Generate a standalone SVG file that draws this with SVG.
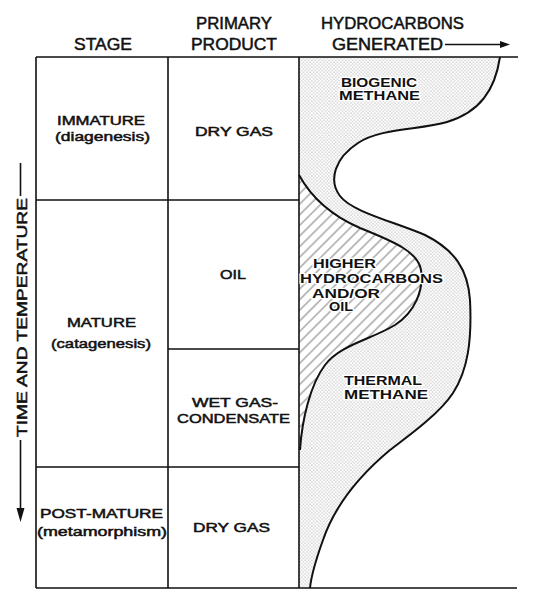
<svg xmlns="http://www.w3.org/2000/svg" width="539" height="599" viewBox="0 0 539 599">
<style>
text{font-family:"Liberation Sans",Arial,sans-serif;fill:#111;stroke:#111;stroke-width:0.5;text-anchor:middle}
.h{font-size:16.5px}
.c{font-size:12.5px}
.lb{font-size:12.5px;font-weight:bold;stroke:#fff;stroke-width:2.6;stroke-linejoin:round;paint-order:stroke}
.ln{stroke:#111;stroke-width:1.6;fill:none}
.cv{stroke:#111;stroke-width:2;fill:none}
</style>
<defs>
<pattern id="dots" width="3.4" height="3.4" patternUnits="userSpaceOnUse"><rect width="3.4" height="3.4" fill="#fff"/><circle cx="0.85" cy="0.85" r="0.45" fill="#555"/><circle cx="2.55" cy="2.55" r="0.45" fill="#555"/></pattern>
<pattern id="hatch" width="7.5" height="10" patternUnits="userSpaceOnUse" patternTransform="rotate(45)"><rect width="7.5" height="10" fill="#fff"/><line x1="3.75" y1="0" x2="3.75" y2="10" stroke="#555" stroke-width="0.8"/></pattern>
</defs>
<rect width="539" height="599" fill="#fff"/>

<g id="regions">
<path id="dotted" d="M299,57 L500,57 C495,90 480,112 447,122 C420,130 380,128 358,143 C335,158 328,180 340,196 C352,212 395,222 425,235 C455,250 468,270 470,300 C472,340 468,370 453,393 C440,413 410,435 390,450 C360,475 335,505 323,540 C314,565 311,578 310,588 L299,588 Z" fill="url(#dots)"/>
<path id="hatched" d="M299,175 C310,195 330,215 360,228 C395,242 418,252 421,270 C424,290 415,312 395,325 C370,340 340,345 325,365 C310,385 302,420 300,450 L299,450 Z" fill="url(#hatch)"/>
</g>

<g id="connectors">
<path class="ln" d="M36,57 H518 M36,57 V588 M168,57 V588 M299,57 V588 M36,588 H517 M36,200 H299 M168,349 H299 M36,467 H299"/>
<path class="cv" d="M500,57 C495,90 480,112 447,122 C420,130 380,128 358,143 C335,158 328,180 340,196 C352,212 395,222 425,235 C455,250 468,270 470,300 C472,340 468,370 453,393 C440,413 410,435 390,450 C360,475 335,505 323,540 C314,565 311,578 310,588"/>
<path class="cv" d="M299,175 C310,195 330,215 360,228 C395,242 418,252 421,270 C424,290 415,312 395,325 C370,340 340,345 325,365 C310,385 302,420 300,450"/>
<path class="ln" d="M445,44.5 H502"/>
<polygon points="500,41 510,44.5 500,48" fill="#111"/>
<path class="ln" d="M20.5,163 V196 M20.5,440 V510"/>
<polygon points="16.5,508 24.5,508 20.5,522" fill="#111"/>
</g>

<g id="header">
<text class="h" x="103" y="50" textLength="58" lengthAdjust="spacingAndGlyphs">STAGE</text>
<text class="h" x="234" y="29" textLength="76" lengthAdjust="spacingAndGlyphs">PRIMARY</text>
<text class="h" x="234" y="50" textLength="86" lengthAdjust="spacingAndGlyphs">PRODUCT</text>
<text class="h" x="392.5" y="29" textLength="143" lengthAdjust="spacingAndGlyphs">HYDROCARBONS</text>
<text class="h" x="387.5" y="50" textLength="111" lengthAdjust="spacingAndGlyphs">GENERATED</text>
<text style="font-size:15px" transform="translate(27,317.5) rotate(-90)" textLength="239" lengthAdjust="spacingAndGlyphs">TIME AND TEMPERATURE</text>
</g>

<g id="immature">
<text class="c" x="101" y="125" textLength="88" lengthAdjust="spacingAndGlyphs">IMMATURE</text>
<text class="c" x="102.5" y="140.5" textLength="95" lengthAdjust="spacingAndGlyphs">(diagenesis)</text>
</g>
<g id="drygas1"><text class="c" x="234" y="136" textLength="78" lengthAdjust="spacingAndGlyphs">DRY GAS</text></g>
<g id="mature">
<text class="c" x="101.5" y="327" textLength="69" lengthAdjust="spacingAndGlyphs">MATURE</text>
<text class="c" x="101" y="347.5" textLength="100" lengthAdjust="spacingAndGlyphs">(catagenesis)</text>
</g>
<g id="oil"><text class="c" x="233" y="279" textLength="26" lengthAdjust="spacingAndGlyphs">OIL</text></g>
<g id="wetgas">
<text class="c" x="235" y="407" textLength="86" lengthAdjust="spacingAndGlyphs">WET GAS-</text>
<text class="c" x="233.5" y="423" textLength="113" lengthAdjust="spacingAndGlyphs">CONDENSATE</text>
</g>
<g id="postmature">
<text class="c" x="101.5" y="518" textLength="123" lengthAdjust="spacingAndGlyphs">POST-MATURE</text>
<text class="c" x="102" y="535.5" textLength="130" lengthAdjust="spacingAndGlyphs">(metamorphism)</text>
</g>
<g id="drygas2"><text class="c" x="231.5" y="532" textLength="77" lengthAdjust="spacingAndGlyphs">DRY GAS</text></g>

<g id="biogenic">
<text class="lb" x="379" y="86.5" textLength="76" lengthAdjust="spacingAndGlyphs">BIOGENIC</text>
<text class="lb" x="379.5" y="99.5" textLength="81" lengthAdjust="spacingAndGlyphs">METHANE</text>
</g>
<g id="higher">
<text class="lb" x="344.5" y="268" textLength="63" lengthAdjust="spacingAndGlyphs">HIGHER</text>
<text class="lb" x="371.5" y="283" textLength="143" lengthAdjust="spacingAndGlyphs">HYDROCARBONS</text>
<text class="lb" x="346" y="297.5" textLength="68" lengthAdjust="spacingAndGlyphs">AND/OR</text>
<text class="lb" x="341" y="311" textLength="24" lengthAdjust="spacingAndGlyphs">OIL</text>
</g>
<g id="thermal">
<text class="lb" x="383" y="385" textLength="78" lengthAdjust="spacingAndGlyphs">THERMAL</text>
<text class="lb" x="386" y="398.5" textLength="84" lengthAdjust="spacingAndGlyphs">METHANE</text>
</g>
</svg>
